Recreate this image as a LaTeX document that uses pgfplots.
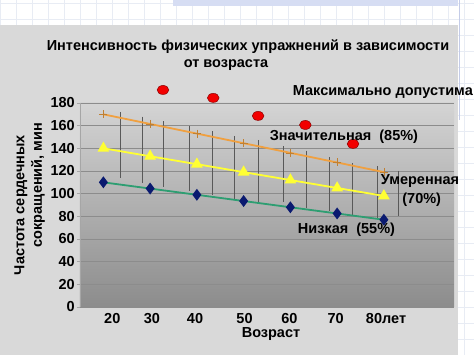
\documentclass[border=0pt]{standalone}
\usepackage{fontspec}
\setmainfont{Liberation Sans}
\usepackage{pgfplots}
\pgfplotsset{compat=1.18}
\definecolor{panel}{HTML}{D9D9D9}
\definecolor{gridc}{HTML}{E8ECF4}
\definecolor{bluebar}{HTML}{D6DDF3}
\definecolor{bluel}{HTML}{C4CCE8}
\definecolor{orangel}{HTML}{F0A040}
\definecolor{yellowl}{HTML}{FFFF33}
\definecolor{greenl}{HTML}{2E9E72}
\definecolor{navyd}{HTML}{0A1A70}
\definecolor{plottop}{HTML}{D4D4D4}
\definecolor{plotbot}{HTML}{8C8C8C}
\newcommand{\F}{\bfseries\fontsize{14.5}{16}\selectfont}
\begin{document}
\begin{tikzpicture}[x=1pt,y=1pt]
\path[use as bounding box] (0,0) rectangle (474,355);
\fill[white] (0,0) rectangle (474,355);
\draw[gridc, line width=0.6] (0,0) grid[step=16] (474,355);
\fill[panel] (0,0) rectangle (458,330);
\fill[bluebar] (173,349) rectangle (458,355);
\draw[bluel, line width=1.2] (459.5,235) -- (459.5,355);
\begin{axis}[
  at={(80pt,48pt)}, anchor=south west,
  scale only axis, width=374pt, height=204pt,
  xmin=15, xmax=95, ymin=0, ymax=180,
  axis background/.style={top color=plottop, bottom color=plotbot},
  axis x line*=bottom, axis y line*=left,
  x axis line style={draw=none},
  y axis line style={draw=gray!70, line width=0.8pt},
  ytick={0,20,...,180},
  xtick={21.9,30.4,39.6,50.2,59.8,69.7,77.9},
  xticklabels={20,30,40,50,60,70,80\rlap{лет}},
  x tick style={draw=none},
  y tick style={draw=gray!70, line width=0.8pt},
  tick align=outside, major tick length=3pt,
  ymajorgrids, major grid style={draw=black!45, line width=0.9pt},
  /pgf/number format/assume math mode=true,
  ticklabel style={font=\F},
  xticklabel style={yshift=-2pt, inner sep=1pt},
  yticklabel style={inner sep=2pt},
  unbounded coords=jump,
  clip=false,
]
\addplot[draw=black!65, line width=0.6pt, mark=none] coordinates {
(23.7,172) (23.7,114) (23.7,nan)
(28.3,168) (28.3,109) (28.3,nan)
(32.8,164) (32.8,106) (32.8,nan)
(38.3,160) (38.3,102) (38.3,nan)
(43.2,155) (43.2,99) (43.2,nan)
(48.0,151) (48.0,95) (48.0,nan)
(53.1,147) (53.1,93) (53.1,nan)
(58.5,142) (58.5,93) (58.5,nan)
(63.5,138) (63.5,87) (63.5,nan)
(68.3,132) (68.3,85) (68.3,nan)
(73.3,127) (73.3,81) (73.3,nan)
(78.5,124) (78.5,77) (78.5,nan)
(83.0,120) (83.0,80)
};
\addplot[orangel, line width=1.8pt, mark=+, mark size=4pt, mark options={line width=0.6pt, draw=orangel!80!black}] coordinates {
(20,170) (30,161.5) (40,153) (50,144.5) (60,136) (70,127.5) (80,119)};
\addplot[yellowl, line width=1.8pt, mark=triangle*, mark size=5pt, mark options={fill=yellowl, draw=yellowl}] coordinates {
(20,140) (30,133) (40,126) (50,119) (60,112) (70,105) (80,98)};
\addplot[greenl, line width=1.8pt, mark=diamond*, mark size=4.5pt, mark options={fill=navyd, draw=navyd}] coordinates {
(20,110) (30,104.5) (40,99) (50,93.5) (60,88) (70,82.5) (80,77)};
\addplot[only marks, mark=*, mark size=4.5pt, mark options={xscale=1.3, fill=red!95!black, draw=red!55!black, line width=0.5pt}] coordinates {
(32.75,191.5) (43.5,184.5) (53.1,168.6) (63.2,160.6) (73.4,143.9)};
\end{axis}
\node[font=\F, inner sep=0] at (248,308.5) {Интенсивность физических упражнений в зависимости};
\node[font=\F, inner sep=0] at (226,290) {от возраста};
\node[font=\F, anchor=east, inner sep=0] at (473,263) {Максимально допустима};
\node[font=\F, inner sep=0] at (344,218.5) {Значительная\ \ (85\%)};
\node[font=\F, inner sep=0] at (420,174.3) {Умеренная};
\node[font=\F, inner sep=0] at (421.7,155) {(70\%)};
\node[font=\F, inner sep=0] at (346.5,125.7) {Низкая\ \ (55\%)};
\node[font=\F, inner sep=0] at (271,21) {Возраст};
\node[font=\F, rotate=90, inner sep=0] at (21,150) {Частота сердечных};
\node[font=\F, rotate=90, inner sep=0] at (38,170) {сокращений, мин};
\end{tikzpicture}
\end{document}
